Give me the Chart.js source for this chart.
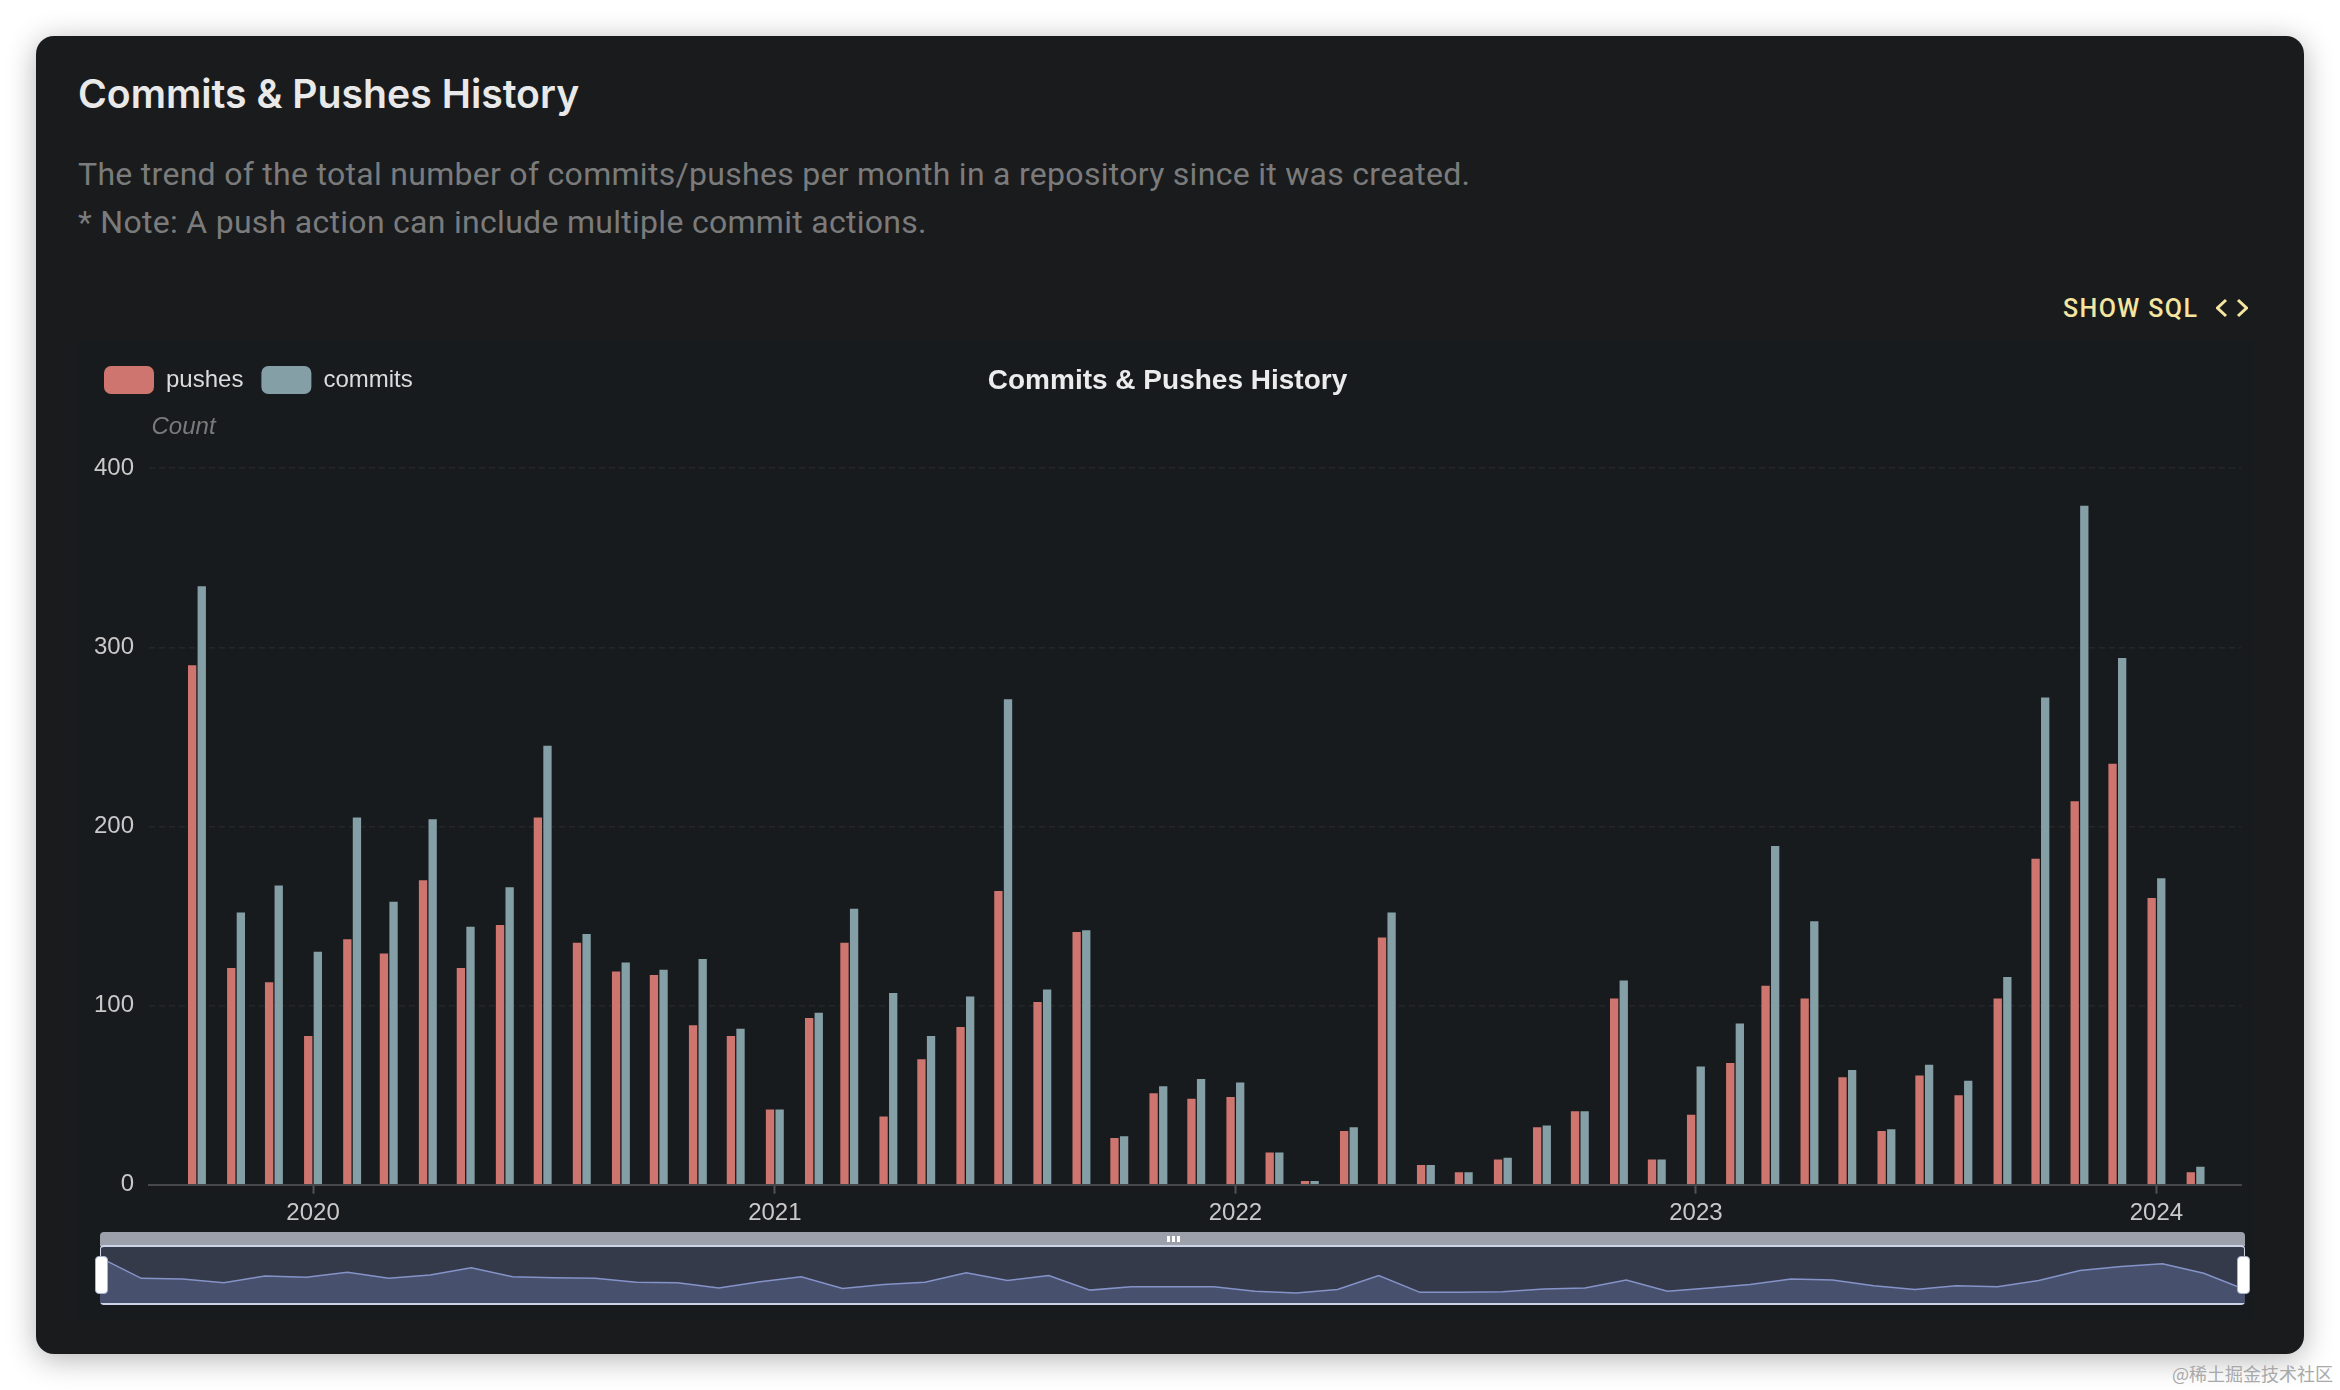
<!DOCTYPE html>
<html>
<head>
<meta charset="utf-8">
<title>Commits & Pushes History</title>
<script src="https://cdn.jsdelivr.net/npm/chart.js@4"></script>
<style>
  html, body { margin: 0; padding: 0; background: #fff; }
  body { position: relative; width: 2340px; height: 1390px; overflow: hidden; }
  .card { position: absolute; left: 36px; top: 36px; width: 2268px; height: 1318px; background: #1a1b1d;
    border-radius: 18px; box-shadow: 0 5px 30px rgba(0,0,0,.3); }
  .abs { position: absolute; white-space: nowrap; }
  .heading { left: 78px; top: 67px; font: 600 39.2px/54px Inter, sans-serif; color: #e9e9ea; }
  .desc { left: 78px; font: 400 32px/48px Roboto, sans-serif; color: #7b7b7c; letter-spacing: .29px; }
  .showsql { left: 2063px; top: 293px; font: 500 25px/32px Roboto, sans-serif; color: #f4e5a1; letter-spacing: 1.4px; }
  .panel { position: absolute; left: 78px; top: 340px; width: 2176px; height: 980px; background: #181b1d; }
  #mainChart { position: absolute; left: 78px; top: 340px; }
  .zoomBar { position: absolute; left: 100px; top: 1232px; width: 2145px; height: 14px; background: #9ca0aa; border-radius: 4px 4px 0 0; }
  .grip { position: absolute; top: 1236px; width: 3px; height: 6px; background: #fff; }
  .zoomFrame { position: absolute; left: 100px; top: 1245px; width: 2143px; height: 56px; background: #343a4a;
    border: solid #ccd3e6; border-width: 2px 1px; border-radius: 4px; }
  #zoomChart { position: absolute; left: 100px; top: 1247px; }
  .handle { position: absolute; top: 1256px; width: 11px; height: 36px; background: #fff; border: 1px solid #aab2cc; border-radius: 4px; }
  .mark { right: 7px; top: 1361px; font: 400 18px/24px "Noto Sans CJK SC", sans-serif; color: #a9a9a9; position: absolute; white-space: nowrap; }
</style>
</head>
<body>
<div class="card"></div>
<div class="abs heading">Commits &amp; Pushes History</div>
<div class="abs desc" style="top:150px">The trend of the total number of commits/pushes per month in a repository since it was created.</div>
<div class="abs desc" style="top:198px">* Note: A push action can include multiple commit actions.</div>
<div class="abs showsql">SHOW SQL</div>
<svg class="abs" style="left:2216px;top:297px" width="32" height="22" viewBox="0 0 32 22" fill="none" stroke="#f4e5a1" stroke-width="3">
  <path d="M10 3 L1.5 11 L10 19"/><path d="M22 3 L30.5 11 L22 19"/>
</svg>
<div class="panel"></div>
<canvas id="mainChart" width="2176" height="980"></canvas>
<div class="zoomBar"></div>
<div class="grip" style="left:1167px"></div>
<div class="grip" style="left:1172px"></div>
<div class="grip" style="left:1177px"></div>
<div class="zoomFrame"></div>
<canvas id="zoomChart" width="2145" height="56"></canvas>
<div class="handle" style="left:95px"></div>
<div class="handle" style="left:2237px"></div>
<div class="mark">@稀土掘金技术社区</div>

<script>
var months = [
  "2019-10","2019-11","2019-12",
  "2020-01","2020-02","2020-03","2020-04","2020-05","2020-06","2020-07","2020-08","2020-09","2020-10","2020-11","2020-12",
  "2021-01","2021-02","2021-03","2021-04","2021-05","2021-06","2021-07","2021-08","2021-09","2021-10","2021-11","2021-12",
  "2022-01","2022-02","2022-03","2022-04","2022-05","2022-06","2022-07","2022-08","2022-09","2022-10","2022-11","2022-12",
  "2023-01","2023-02","2023-03","2023-04","2023-05","2023-06","2023-07","2023-08","2023-09","2023-10","2023-11","2023-12",
  "2024-01","2024-02"
];
var pushes = [
  290,121,113,
  83,137,129,170,121,145,205,135,119,117,89,83,
  42,93,135,38,70,88,164,102,141,26,51,48,
  49,18,2,30,138,11,7,14,32,41,104,14,
  39,68,111,104,60,30,61,50,104,182,214,235,
  160,7
];
var commits = [
  334,152,167,
  130,205,158,204,144,166,245,140,124,120,126,87,
  42,96,154,107,83,105,271,109,142,27,55,59,
  57,18,2,32,152,11,7,15,33,41,114,14,
  66,90,189,147,64,31,67,58,116,272,379,294,
  171,10
];
// height of the slider's background trend, percent of the frame
var zoomTrend = [
  81,44,43,36,48,46,55,44,50,63,47,45,44,37,36,27,38,47,26,33,37,54,40,49,23,29,29,
  29,21,18,24,49,19,19,20,25,27,41,21,27,33,43,41,31,24,31,29,40,58,65,70,53,24
];
var yearTicks = ["2020-01","2021-01","2022-01","2023-01","2024-01"];
var axisStart = "2019-08-24";
var axisEnd = "2024-03-08";
var yTicksMax = 400;

function toTime(s) {
  var p = s.split("-");
  return Date.UTC(+p[0], +p[1] - 1, +(p[2] || 1));
}

var fontFamily = '"Liberation Sans", Arial, sans-serif';

// puts the chart title on the legend's row, ECharts style, and writes the y axis name
var headerRowPlugin = {
  id: "headerRow",
  afterLayout: function(chart) {
    chart.titleBlock.top = 24;
    chart.titleBlock.left += 4;
    chart.titleBlock.right += 4;
    chart.legend.top = 8;
  },
  afterDraw: function(chart) {
    var ctx = chart.ctx;
    ctx.save();
    ctx.font = "italic 24px " + fontFamily;
    ctx.fillStyle = "#7a7a7b";
    ctx.textBaseline = "middle";
    ctx.fillText("Count", chart.chartArea.left + 2.5, 87.5);
    ctx.restore();
  }
};

new Chart(document.getElementById("mainChart"), {
  type: "bar",
  data: {
    datasets: [
      { label: "pushes", backgroundColor: "#cf756f", data: months.map(function(m, i) { return { x: toTime(m), y: pushes[i] }; }) },
      { label: "commits", backgroundColor: "#84a0a6", data: months.map(function(m, i) { return { x: toTime(m), y: commits[i] }; }) }
    ]
  },
  plugins: [headerRowPlugin],
  options: {
    responsive: false,
    animation: false,
    categoryPercentage: 0.544,
    barPercentage: 0.865,
    layout: { padding: { left: 8, right: 13, top: 0, bottom: 0 } },
    plugins: {
      tooltip: { enabled: false },
      title: {
        display: true,
        text: "Commits & Pushes History",
        color: "#ececed",
        font: { family: fontFamily, size: 28, weight: "bold" },
        padding: { top: 0, bottom: 38.5 }
      },
      legend: {
        align: "start",
        labels: {
          boxWidth: 50, boxHeight: 28, padding: 18, color: "#dcdcdc",
          useBorderRadius: true, borderRadius: 7,
          font: { family: fontFamily, size: 24 }
        }
      }
    },
    scales: {
      x: {
        type: "linear",
        offset: false,
        min: toTime(axisStart),
        max: toTime(axisEnd),
        grid: { display: true, offset: false, drawOnChartArea: false, drawTicks: true, tickLength: 9, tickColor: "#505153", tickWidth: 2 },
        border: { display: true, color: "#47484a", width: 2 },
        afterBuildTicks: function(scale) {
          scale.ticks = yearTicks.map(function(y) { return { value: toTime(y) }; });
        },
        afterFit: function(scale) { scale.height = 135.3; },
        ticks: {
          autoSkip: false, maxRotation: 0, padding: 5.5, color: "#c9c9c9",
          font: { family: fontFamily, size: 24 },
          callback: function(v) { return new Date(v).getUTCFullYear(); }
        }
      },
      y: {
        min: 0,
        max: yTicksMax,
        afterFit: function(scale) { scale.width = 63; },
        grid: {
          drawTicks: false, lineWidth: 1.5,
          color: function(c) { return c.tick.value === 0 ? "rgba(0,0,0,0)" : "#242628"; }
        },
        border: { display: false, dash: [6, 4] },
        ticks: {
          stepSize: 100, padding: 15, color: "#c9c9c9",
          font: { family: fontFamily, size: 24 }
        }
      }
    }
  }
});

new Chart(document.getElementById("zoomChart"), {
  type: "line",
  data: {
    labels: months,
    datasets: [{
      data: zoomTrend,
      borderColor: "#8593c9",
      borderWidth: 1.5,
      backgroundColor: "#47506c",
      fill: "origin",
      pointRadius: 0,
      tension: 0
    }]
  },
  options: {
    responsive: false,
    animation: false,
    layout: { padding: 0 },
    plugins: { legend: { display: false }, tooltip: { enabled: false }, title: { display: false } },
    scales: {
      x: { display: false, offset: false },
      y: { display: false, min: 0, max: 100 }
    }
  }
});
</script>
</body>
</html>
